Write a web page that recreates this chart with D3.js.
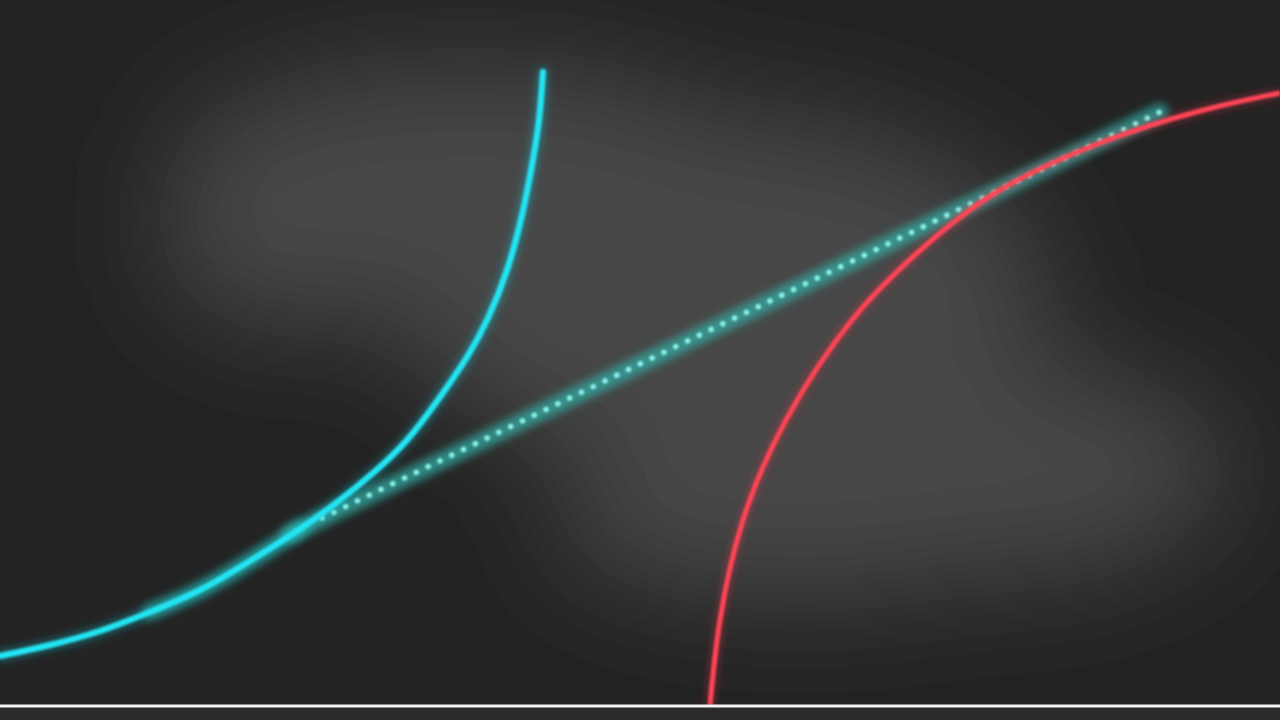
<!DOCTYPE html>
<html>
<head>
<meta charset="utf-8">
<script src="https://cdn.jsdelivr.net/npm/d3@7"></script>
<style>
  html, body { margin: 0; padding: 0; background: #222; overflow: hidden; }
</style>
</head>
<body>
<div id="chart"></div>
<script>
// curve values (x, y in screen units, y grows downward)
var cyanX = [0, 50, 100, 150, 200, 250, 300, 340, 373, 407, 440, 467, 488, 507, 522, 532, 539, 543];
var cyanY = [656, 645, 631, 612, 590, 561, 529, 500, 473, 440, 397, 357, 318, 270, 215, 165, 120, 72];

var redX = [710, 720, 743, 786, 852, 925, 1000, 1100, 1200, 1280];
var redY = [705, 620, 520, 420, 320, 246, 190, 143, 111, 93];

// tangent (dotted) line: glow start, dot start, end
var tanX = [290, 322, 1160];
var tanY = [534, 518, 112];

// stretch of the cyan curve that carries the teal glow (x range)
var glowFrom = 150, glowTo = 330;

// background light patches: cx, cy, rx, ry
var blobCx = [470, 720, 1000, 800, 300];
var blobCy = [170, 290, 470, 520, 240];
var blobRx = [300, 330, 230, 250, 140];
var blobRy = [110, 180, 110, 80, 90];

var width = 1280, height = 720;

var svg = d3.select("#chart").append("svg")
    .attr("width", width)
    .attr("height", height);

var x = d3.scaleLinear().domain([0, 1280]).range([0, width]);
var y = d3.scaleLinear().domain([0, 720]).range([0, height]);

var defs = svg.append("defs");
defs.append("filter").attr("id", "bgblur")
    .attr("x", "-50%").attr("y", "-50%").attr("width", "200%").attr("height", "200%")
    .append("feGaussianBlur").attr("stdDeviation", 55);
defs.append("filter").attr("id", "glow")
    .attr("x", "-20%").attr("y", "-20%").attr("width", "140%").attr("height", "140%")
    .append("feGaussianBlur").attr("stdDeviation", 4.5);
defs.append("filter").attr("id", "soft")
    .attr("x", "-20%").attr("y", "-20%").attr("width", "140%").attr("height", "140%")
    .append("feGaussianBlur").attr("stdDeviation", 1.1);

// background
svg.append("rect")
    .attr("width", width).attr("height", height)
    .attr("fill", "#232323");

svg.append("g")
    .attr("filter", "url(#bgblur)")
    .selectAll("ellipse")
    .data(d3.range(blobCx.length))
    .enter().append("ellipse")
    .attr("cx", function(i) { return x(blobCx[i]); })
    .attr("cy", function(i) { return y(blobCy[i]); })
    .attr("rx", function(i) { return x(blobRx[i]); })
    .attr("ry", function(i) { return y(blobRy[i]); })
    .attr("fill", "#474747");

var line = d3.line()
    .x(function(d) { return x(d[0]); })
    .y(function(d) { return y(d[1]); })
    .curve(d3.curveNatural);

var cyanPts = d3.zip(cyanX, cyanY);
var redPts = d3.zip(redX, redY);
var glowPts = cyanPts.filter(function(d) { return d[0] >= glowFrom && d[0] <= glowTo; });

// teal glow band: along the cyan near the touch point, then the straight line
svg.append("path")
    .datum(glowPts)
    .attr("d", line)
    .attr("fill", "none")
    .attr("stroke", "#2fb3aa")
    .attr("stroke-width", 17)
    .attr("stroke-opacity", 0.6)
    .attr("stroke-linecap", "round")
    .attr("filter", "url(#glow)");
svg.append("line")
    .attr("x1", x(tanX[0])).attr("y1", y(tanY[0]))
    .attr("x2", x(tanX[2])).attr("y2", y(tanY[2]))
    .attr("stroke", "#34b0a8")
    .attr("stroke-width", 17)
    .attr("stroke-opacity", 0.72)
    .attr("stroke-linecap", "round")
    .attr("filter", "url(#glow)");

// dots
svg.append("line")
    .attr("x1", x(tanX[1])).attr("y1", y(tanY[1]))
    .attr("x2", x(tanX[2])).attr("y2", y(tanY[2]))
    .attr("stroke", "#8af2e8")
    .attr("stroke-width", 5.5)
    .attr("stroke-dasharray", "0.1 13")
    .attr("stroke-linecap", "round")
    .attr("filter", "url(#soft)");

// red curve
svg.append("path")
    .datum(redPts)
    .attr("d", line)
    .attr("fill", "none")
    .attr("stroke", "#ff3346")
    .attr("stroke-width", 8)
    .attr("stroke-opacity", 0.35)
    .attr("filter", "url(#glow)");
svg.append("path")
    .datum(redPts)
    .attr("d", line)
    .attr("fill", "none")
    .attr("stroke", "#ff4456")
    .attr("stroke-width", 5)
    .attr("filter", "url(#soft)");

// cyan curve
svg.append("path")
    .datum(cyanPts)
    .attr("d", line)
    .attr("fill", "none")
    .attr("stroke", "#1ad8ea")
    .attr("stroke-width", 10)
    .attr("stroke-opacity", 0.4)
    .attr("stroke-linecap", "round")
    .attr("filter", "url(#glow)");
svg.append("path")
    .datum(cyanPts)
    .attr("d", line)
    .attr("fill", "none")
    .attr("stroke", "#22e4f2")
    .attr("stroke-width", 6)
    .attr("stroke-linecap", "round")
    .attr("filter", "url(#soft)");

// bottom strip and white baseline
svg.append("rect")
    .attr("x", 0).attr("y", y(707))
    .attr("width", width).attr("height", height - y(707))
    .attr("fill", "#2a2a2a");
svg.append("line")
    .attr("x1", 0).attr("x2", width)
    .attr("y1", y(706)).attr("y2", y(706))
    .attr("stroke", "#f2f2f2")
    .attr("stroke-width", 3);
</script>
</body>
</html>
